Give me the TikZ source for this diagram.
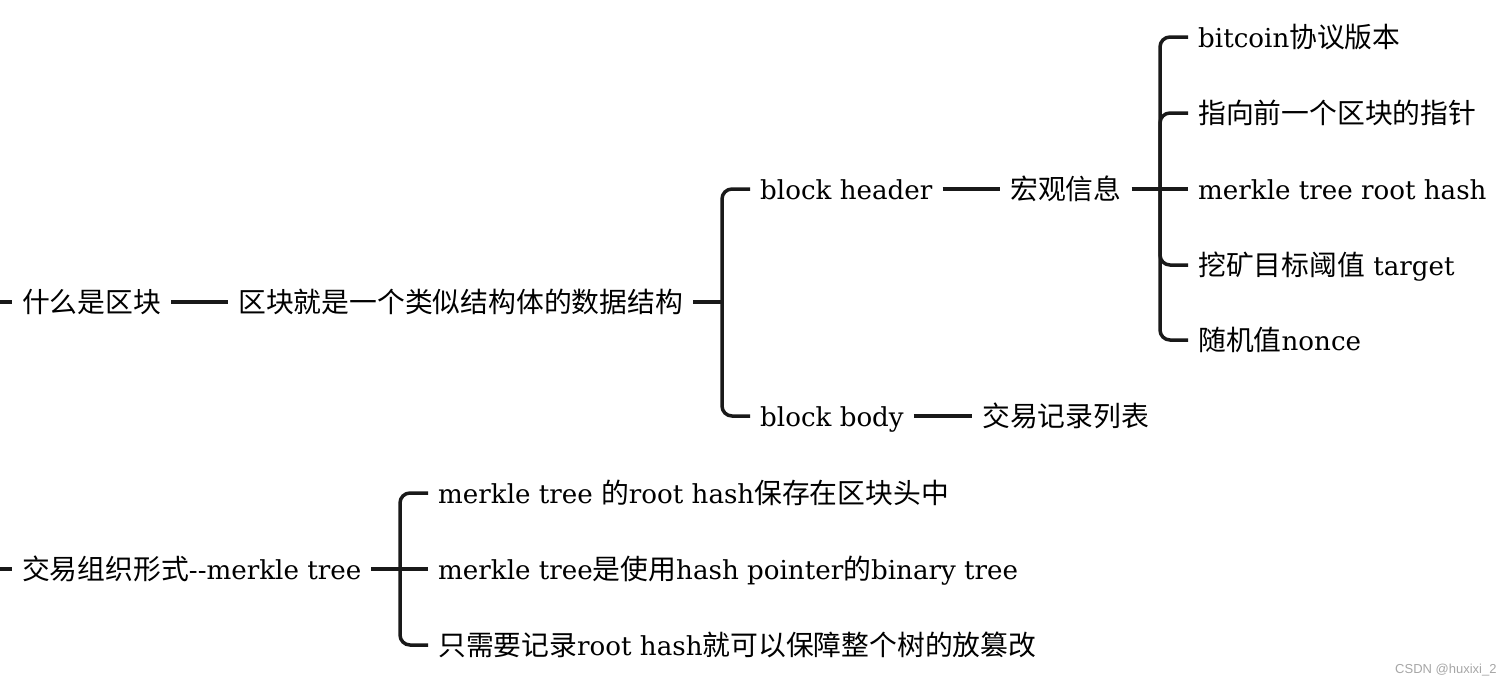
\documentclass[tikz,border=0pt]{standalone}
\usepackage{fontspec}
\setmainfont{DejaVu Serif}[Scale=0.94, Ligatures=TeXOff]
\newfontfamily\cjk{Noto Sans CJK SC}
\newfontfamily\wmfont{Liberation Sans}
\newcommand\zh[1]{{\cjk #1}}

\begin{document}
\begin{tikzpicture}[x=1pt,y=-1pt]
	\tikzstyle{every node}=[anchor=west, inner xsep=10pt, inner ysep=0pt, text height=21pt, text depth=0pt, font=\fontsize{27.8}{33}\selectfont]
	\tikzstyle{link}=[line width=3.5pt, rounded corners=10pt, black!90]
	\useasboundingbox (0,0) rectangle (1510,686);
	\coordinate (s1) at (0,302);
	\coordinate (s2) at (0,569);
	\draw (12,302) node (t1) {\zh{什么是区块}};
	\draw (228,302) node (t2) {\zh{区块就是一个类似结构体的数据结构}};
	\draw (750,189) node (hd) {block header};
	\draw (750,416) node (bd) {block body};
	\draw (1000,189) node (mi) {\zh{宏观信息}};
	\draw (972,416) node (tx) {\zh{交易记录列表}};
	\draw (1188,37) node (f1) {bitcoin\zh{协议版本}};
	\draw (1188,113) node (f2) {\zh{指向前一个区块的指针}};
	\draw (1188,189) node (f3) {merkle tree root hash};
	\draw (1188,265) node (f4) {\zh{挖矿目标阈值} target};
	\draw (1188,340) node (f5) {\zh{随机值}nonce};
	\draw (12,569) node (m0) {\zh{交易组织形式}--merkle tree};
	\draw (428,493) node (m1) {merkle tree \zh{的}root hash\zh{保存在区块头中}};
	\draw (428,569) node (m2) {merkle tree\zh{是使用}hash pointer\zh{的}binary tree};
	\draw (428,645) node (m3) {\zh{只需要记录}root hash\zh{就可以保障整个树的放篡改}};
	\draw (1395,669) node (wm) [inner xsep=0pt, text height=9pt, text=gray!70, font=\wmfont\fontsize{13}{15}\selectfont] {CSDN @huxixi\_2};
	% junctions
	\path (t2.east -| hd.west) ++(-28,0) coordinate (j1);
	\path (mi.east -| f3.west) ++(-28,0) coordinate (j2);
	\path (m0.east -| m2.west) ++(-28,0) coordinate (j3);
	\draw[link] (s1) -- (t1.west);
	\draw[link] (s2) -- (m0.west);
	\draw[link] (t1.east) -- (t2.west);
	\draw[link] (t2.east) -- (j1);
	\draw[link] (j1) |- (hd.west);
	\draw[link] (j1) |- (bd.west);
	\draw[link] (hd.east) -- (mi.west);
	\draw[link] (bd.east) -- (tx.west);
	\draw[link] (mi.east) -- (f3.west);
	\draw[link] (j2) |- (f1.west);
	\draw[link] (j2) |- (f2.west);
	\draw[link] (j2) |- (f4.west);
	\draw[link] (j2) |- (f5.west);
	\draw[link] (m0.east) -- (m2.west);
	\draw[link] (j3) |- (m1.west);
	\draw[link] (j3) |- (m3.west);
\end{tikzpicture}
\end{document}
